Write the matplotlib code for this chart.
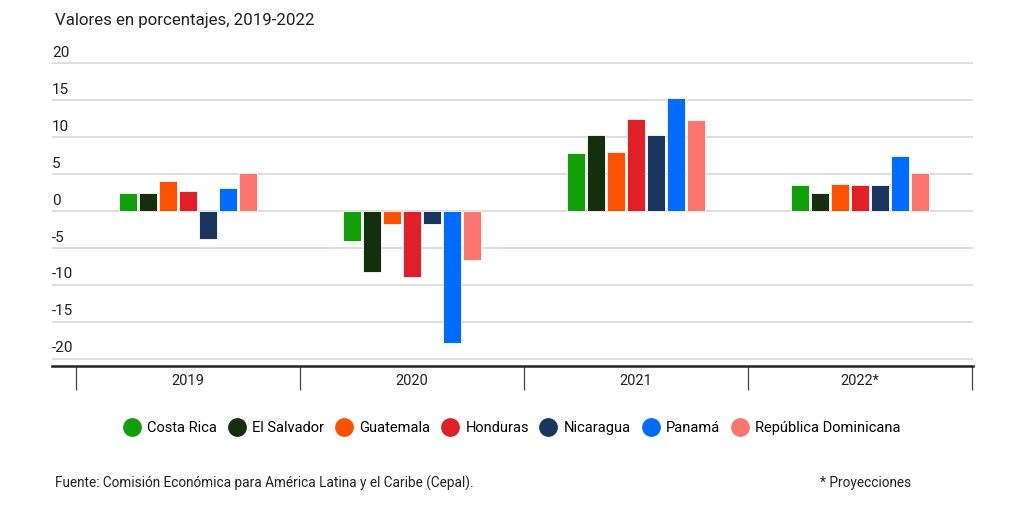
import matplotlib

matplotlib.use("Agg")
import matplotlib.pyplot as plt
from matplotlib.lines import Line2D
from matplotlib.transforms import blended_transform_factory
import numpy as np

plt.rcParams["font.family"] = ["Roboto", "DejaVu Sans"]

years = ["2019", "2020", "2021", "2022*"]
countries = ["Costa Rica", "El Salvador", "Guatemala", "Honduras",
             "Nicaragua", "Panamá", "República Dominicana"]
colors = ["#12a00a", "#132f0d", "#ff5000", "#e01f28", "#19375e", "#006cff", "#fd756d"]

costa_rica = [2.45, -4.1, 7.8, 3.5]
el_salvador = [2.45, -8.2, 10.3, 2.5]
guatemala = [4.0, -1.8, 8.0, 3.7]
honduras = [2.7, -9.0, 12.5, 3.55]
nicaragua = [-3.8, -1.8, 10.3, 3.55]
panama = [3.05, -17.9, 15.3, 7.4]
rep_dominicana = [5.1, -6.7, 12.3, 5.1]
series = [costa_rica, el_salvador, guatemala, honduras, nicaragua, panama, rep_dominicana]

yticks = [20, 15, 10, 5, 0, -5, -10, -15, -20]

fig = plt.figure(figsize=(10.24, 5.12), dpi=100)
ax = fig.add_axes([52 / 1024, 1 - 366 / 512, 921 / 1024, 310 / 512])

x = np.arange(len(years))
pitch = 0.089
width = 0.081
for i, (name, vals) in enumerate(zip(countries, series)):
    off = (i - 3) * pitch
    ax.bar(x + off, vals, width=width, color=colors[i], edgecolor="white",
           linewidth=0.6, zorder=3, label=name)

ax.set_xlim(-0.607, 3.505)
ax.set_ylim(-21, 21)

# gridlines, with the value written just above each line
trans = blended_transform_factory(ax.transAxes, ax.transData)
for t in yticks:
    ax.axhline(t, color="#d6d6d6", linewidth=1.1, zorder=1)
    ax.text(0.0, t + 0.45, str(t), transform=trans, ha="left",
            va="bottom", fontsize=11, color="#222222")

ax.set_yticks([])
for side in ["left", "right", "top"]:
    ax.spines[side].set_visible(False)
ax.spines["bottom"].set_color("#222222")
ax.spines["bottom"].set_linewidth(1.8)

ax.set_xticks(x)
ax.set_xticklabels(years, fontsize=10.5, color="#222222")
ax.tick_params(axis="x", which="major", length=0, pad=6)
ax.set_xticks(np.arange(-0.5, len(years)), minor=True)
ax.tick_params(axis="x", which="minor", length=17, width=0.9, color="#444444")

fig.text(55 / 1024, 1 - 20 / 512, "Valores en porcentajes, 2019-2022",
         fontsize=12.2, color="#222222", ha="left", va="center")

handles = [Line2D([], [], marker="o", linestyle="none", markersize=12.5,
                  markerfacecolor=c, markeredgecolor=c) for c in colors]
fig.legend(handles, countries, loc="center", bbox_to_anchor=(0.5, 1 - 428 / 512),
           ncol=7, frameon=False, fontsize=10.5, handletextpad=0.45,
           columnspacing=0.75, handlelength=1.2)

fig.text(55 / 1024, 1 - 483 / 512,
         "Fuente: Comisión Económica para América Latina y el Caribe (Cepal).",
         fontsize=9.8, color="#222222", ha="left", va="center")
fig.text(911 / 1024, 1 - 483 / 512, "* Proyecciones",
         fontsize=9.8, color="#222222", ha="right", va="center")

fig.savefig("out.png", dpi=100)
